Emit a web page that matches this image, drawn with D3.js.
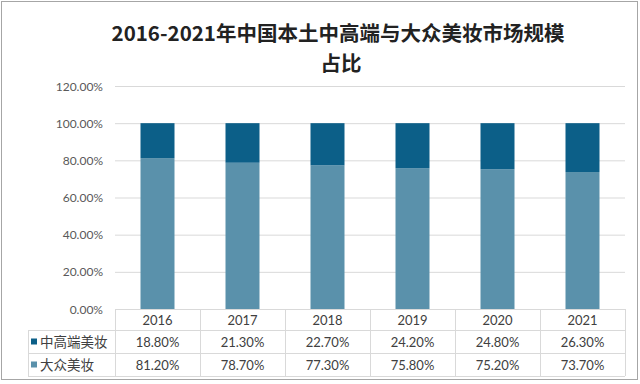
<!DOCTYPE html>
<html>
<head>
<meta charset="utf-8">
<script src="https://cdn.jsdelivr.net/npm/d3@7"></script>
<style>
  body { margin: 0; background: #fff; }
  svg { display: block; font-family: "Noto Sans CJK SC", "Noto Sans", sans-serif; }
  .num { font-family: Lato, "Noto Sans", sans-serif; }
</style>
</head>
<body>
<svg id="chart" width="640" height="384"></svg>
<script>
// 数据
const years = ["2016", "2017", "2018", "2019", "2020", "2021"];
const highEnd = [18.8, 21.3, 22.7, 24.2, 24.8, 26.3];   // 中高端美妆
const mass = [81.2, 78.7, 77.3, 75.8, 75.2, 73.7];      // 大众美妆
const seriesNames = ["中高端美妆", "大众美妆"];
const yTicks = [0, 20, 40, 60, 80, 100, 120];

const colDark = "#0c5f88";
const colLight = "#5a91ab";

const svg = d3.select("#chart");

// 外框
svg.append("rect")
    .attr("x", 1.5).attr("y", 1.5)
    .attr("width", 636).attr("height", 378)
    .attr("fill", "none").attr("stroke", "#a6a6a6");

// 标题（两行）
svg.append("text")
    .attr("x", 338).attr("y", 41)
    .attr("text-anchor", "middle")
    .attr("font-weight", "bold")
    .attr("font-size", 20.5)
    .attr("fill", "#222")
    .text("2016-2021年中国本土中高端与大众美妆市场规模");
svg.append("text")
    .attr("x", 341).attr("y", 71)
    .attr("text-anchor", "middle")
    .attr("font-weight", "bold")
    .attr("font-size", 20.5)
    .attr("fill", "#222")
    .text("占比");

const x = d3.scaleBand().domain(years).range([115, 625]).paddingInner(0.6).paddingOuter(0.3);
const xCol = d3.scaleBand().domain(years).range([115, 625]);
const y = d3.scaleLinear().domain([0, 120]).range([309, 86]);

// 网格线
svg.append("g")
    .selectAll("line")
    .data(yTicks)
    .join("line")
    .attr("x1", 115).attr("x2", 625)
    .attr("y1", d => y(d) + 0.5).attr("y2", d => y(d) + 0.5)
    .attr("stroke", "#d9d9d9");

// Y 轴标签
svg.append("g")
    .selectAll("text")
    .data(yTicks)
    .join("text")
    .attr("class", "num")
    .attr("x", 103)
    .attr("y", d => y(d) + 4.5)
    .attr("text-anchor", "end")
    .attr("font-size", 12)
    .attr("fill", "#595959")
    .text(d => d.toFixed(2) + "%");

// 堆叠柱
const rows = years.map((yr, i) => ({ year: yr, mass: mass[i], high: highEnd[i] }));
const stack = d3.stack().keys(["mass", "high"])(rows);
const colors = { mass: colLight, high: colDark };

svg.append("g")
    .selectAll("g")
    .data(stack)
    .join("g")
    .attr("fill", d => colors[d.key])
    .selectAll("rect")
    .data(d => d)
    .join("rect")
    .attr("x", d => x(d.data.year))
    .attr("width", x.bandwidth())
    .attr("y", d => y(d[1]))
    .attr("height", d => y(d[0]) - y(d[1]));

// 数据表
const rowY = [309, 330, 353, 376];
const tbl = svg.append("g").attr("stroke", "#d9d9d9");
// 横线
tbl.append("line").attr("x1", 28).attr("x2", 625).attr("y1", rowY[1] + 0.5).attr("y2", rowY[1] + 0.5);
tbl.append("line").attr("x1", 28).attr("x2", 625).attr("y1", rowY[2] + 0.5).attr("y2", rowY[2] + 0.5);
tbl.append("line").attr("x1", 28).attr("x2", 625).attr("y1", rowY[3] + 0.5).attr("y2", rowY[3] + 0.5);
// 竖线
tbl.selectAll("line.v")
    .data(years.concat(["end"]))
    .join("line")
    .attr("class", "v")
    .attr("x1", d => (d === "end" ? 625 : xCol(d)) + 0.5)
    .attr("x2", d => (d === "end" ? 625 : xCol(d)) + 0.5)
    .attr("y1", rowY[0]).attr("y2", rowY[3]);
tbl.append("line").attr("x1", 28.5).attr("x2", 28.5).attr("y1", rowY[1]).attr("y2", rowY[3]);

// 年份
svg.append("g")
    .selectAll("text")
    .data(years)
    .join("text")
    .attr("class", "num")
    .attr("x", d => xCol(d) + xCol.bandwidth() / 2)
    .attr("y", (rowY[0] + rowY[1]) / 2 + 5)
    .attr("text-anchor", "middle")
    .attr("font-size", 13)
    .attr("fill", "#404040")
    .text(d => d);

// 表格数值
const tableData = [highEnd, mass];
tableData.forEach((vals, r) => {
    const cy = (rowY[r + 1] + rowY[r + 2]) / 2;
    svg.append("g")
        .selectAll("text")
        .data(vals)
        .join("text")
        .attr("class", "num")
        .attr("x", (d, i) => xCol(years[i]) + xCol.bandwidth() / 2)
        .attr("y", cy + 5)
        .attr("text-anchor", "middle")
        .attr("font-size", 13)
        .attr("fill", "#404040")
        .text(d => d.toFixed(2) + "%");

    // 图例
    svg.append("rect")
        .attr("x", 31).attr("y", cy - 3)
        .attr("width", 6).attr("height", 6)
        .attr("fill", r === 0 ? colDark : colLight);
    svg.append("text")
        .attr("x", 40).attr("y", cy + 5)
        .attr("font-size", 13.5)
        .attr("fill", "#404040")
        .text(seriesNames[r]);
});
</script>
</body>
</html>
